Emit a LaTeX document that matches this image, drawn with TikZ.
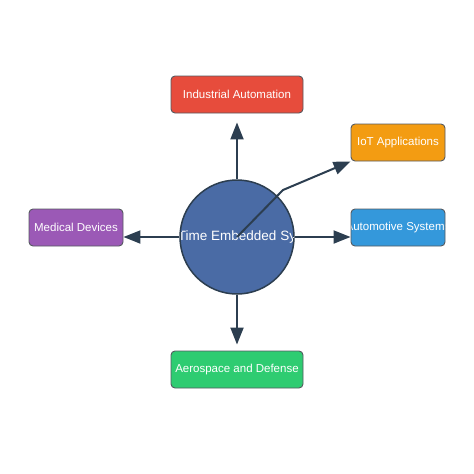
\documentclass[tikz,border=0pt]{standalone}
\usepackage{fontspec}
\setmainfont{Liberation Sans}
\usetikzlibrary{arrows.meta}
\definecolor{hubfill}{HTML}{4A6BA5}
\definecolor{edgecol}{HTML}{2C3E50}
\definecolor{boxline}{HTML}{555A60}
\definecolor{indred}{HTML}{E74C3C}
\definecolor{iotorange}{HTML}{F39C12}
\definecolor{autoblue}{HTML}{3498DB}
\definecolor{medpurple}{HTML}{9B59B6}
\definecolor{aergreen}{HTML}{2ECC71}

\begin{document}
\begin{tikzpicture}[x=1pt, y=-1pt, font=\fontsize{11.5}{13}\selectfont, hub/.style={draw=edgecol, circle, fill=hubfill, minimum size=114pt, inner sep=0pt, line width=1.5pt}, box/.style={rectangle, rounded corners=4, draw=boxline, line width=0.9pt, text=white, minimum width=94pt, minimum height=37pt, inner sep=0pt}, wide/.style={minimum width=132pt}, n/.style={-{Triangle[length=17pt, width=13pt]}, line width=2pt, draw=edgecol}]
                \useasboundingbox (0,0) rectangle (474,474);
                % nodes
                \node[hub] (c) at (237,237) {};
                \node[box, wide, fill=indred] (ind) at (237,94.5) {Industrial Automation};
                \node[box, fill=iotorange] (iot) at (398,142.5) {IoT Applications};
                \node[box, fill=medpurple] (med) at (76,227.5) {Medical Devices};
                \node[box, fill=autoblue, path picture={\node[text=white] at (path picture bounding box.center) {Automotive Systems};}] (auto) at (398,227.5) {};
                \node[box, wide, fill=aergreen] (aer) at (237,369.5) {Aerospace and Defense};
                \node[circle, minimum size=112pt, inner sep=0pt, path picture={\node[text=white, font=\fontsize{13.5}{15}\selectfont] at (path picture bounding box.center) {Time Embedded Sy};}] (ctext) at (c.center) {};
                \coordinate (bend) at (283,190);
                % edges
                \draw [n, shorten >=9pt] (c.north) -- (ind.south);
                \draw [n, shorten >=6pt] (c.south) -- (aer.north);
                \draw [n] (c.west) -- (c.west -| med.east);
                \draw [n] (c.east) -- (c.east -| auto.west);
                \draw [n] (c.center) -- (bend) -- (iot.south west);
            \end{tikzpicture}
\end{document}
